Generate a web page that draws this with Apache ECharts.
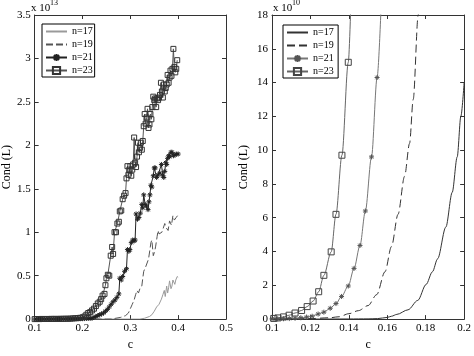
<!DOCTYPE html>
<html>
<head>
<meta charset="utf-8">
<script src="https://cdn.jsdelivr.net/npm/echarts@6/dist/echarts.min.js"></script>
<style>
html,body{margin:0;padding:0;background:#fff;}
#chart{width:474px;height:356px;}
</style>
</head>
<body>
<div id="chart"></div>
<script>
// ---------- Left panel data (Cond(L) in units of 1e13) ----------
var seriesNames = ['n=17', 'n=19', 'n=21', 'n=23'];
var leftXTicks = [0.1, 0.2, 0.3, 0.4, 0.5];
var leftYTicks = [0, 0.5, 1, 1.5, 2, 2.5, 3, 3.5];
var rightXTicks = [0.1, 0.12, 0.14, 0.16, 0.18, 0.2];
var rightYTicks = [0, 2, 4, 6, 8, 10, 12, 14, 16, 18];

var L17x = [0.100,0.120,0.140,0.160,0.180,0.200,0.220,0.240,0.260,0.280,0.300,0.320,0.330,0.340,0.345,0.350,0.355,0.360,0.365,0.368,0.371,0.373,0.376,0.378,0.380,0.382,0.385,0.387,0.389,0.391,0.393,0.395,0.398,0.400];
var L17y = [0,0,0,0,0,0,0,0,0,0,0,0,0.01,0.03,0.05,0.09,0.14,0.17,0.23,0.28,0.33,0.26,0.38,0.30,0.36,0.44,0.35,0.38,0.45,0.47,0.40,0.45,0.49,0.48];

var L19x = [0.100,0.110,0.120,0.130,0.140,0.150,0.160,0.170,0.180,0.190,0.200,0.210,0.220,0.230,0.240,0.250,0.260,0.270,0.280,0.290,0.296,0.300,0.304,0.308,0.311,0.314,0.317,0.320,0.324,0.326,0.328,0.332,0.335,0.338,0.341,0.343,0.345,0.348,0.351,0.353,0.356,0.358,0.360,0.362,0.366,0.369,0.372,0.375,0.379,0.382,0.386,0.389,0.392,0.396,0.400];
var L19y = [0,0,0,0,0,0,0,0,0,0,0,0,0,0,0,0,0,0.01,0.02,0.04,0.07,0.12,0.17,0.22,0.28,0.33,0.30,0.35,0.38,0.47,0.55,0.60,0.62,0.69,0.80,0.88,0.91,0.73,0.78,0.84,0.95,1.02,0.98,0.97,1.00,1.02,1.10,1.05,1.02,1.13,1.08,1.19,1.14,1.17,1.20];

var L21x = [0.100,0.104,0.108,0.112,0.116,0.120,0.124,0.128,0.132,0.136,0.140,0.144,0.148,0.152,0.156,0.160,0.164,0.168,0.172,0.176,0.180,0.184,0.188,0.192,0.196,0.200,0.204,0.208,0.212,0.216,0.220,
  0.224,0.228,0.232,0.236,0.240,0.244,0.248,0.252,0.256,0.260,0.264,0.268,0.272,0.276,
  0.278,0.281,0.284,0.288,0.292,0.294,0.297,0.299,0.302,0.305,0.308,0.310,0.312,0.315,0.318,0.321,0.324,0.326,0.328,0.331,0.334,0.337,0.339,0.341,0.343,0.345,0.348,0.350,0.352,0.355,0.358,0.362,0.365,0.368,0.370,0.372,0.374,0.376,0.378,0.380,0.382,0.385,0.387,0.390,0.393,0.396,0.400];
var L21y = [0.000,0.000,0.001,0.000,0.001,0.000,0.001,0.001,0.000,0.001,0.001,0.001,0.002,0.001,0.002,0.002,0.002,0.003,0.002,0.003,0.003,0.004,0.004,0.004,0.005,0.005,0.006,0.007,0.008,0.009,0.010,
  0.02,0.03,0.04,0.05,0.06,0.07,0.09,0.11,0.14,0.17,0.20,0.22,0.25,0.29,
  0.47,0.45,0.49,0.55,0.58,0.80,0.78,0.80,0.88,0.91,0.90,0.91,1.21,1.15,1.17,1.22,1.32,1.28,1.43,1.32,1.30,1.26,1.35,1.43,1.54,1.52,1.65,1.74,1.74,1.63,1.66,1.68,1.78,1.65,1.63,1.70,1.80,1.78,1.85,1.88,1.87,1.92,1.92,1.88,1.89,1.90,1.90];

var L23x = [0.100,0.105,0.110,0.115,0.120,0.125,0.130,0.135,0.140,0.145,0.150,0.155,0.160,0.165,0.170,0.175,0.180,0.185,0.190,0.195,0.200,
  0.204,0.208,0.212,0.216,0.220,0.224,0.228,0.232,0.236,
  0.239,0.242,0.246,0.248,0.250,0.253,0.256,0.259,0.262,0.264,0.267,0.270,0.273,0.276,0.278,0.281,0.284,0.287,0.290,
  0.292,0.294,0.296,0.298,0.300,0.302,0.304,0.306,0.308,0.310,0.312,0.314,0.316,0.318,0.320,0.322,0.324,0.326,0.328,0.330,0.332,0.334,0.336,0.338,0.340,0.342,0.344,0.346,0.348,0.350,0.352,0.354,0.356,0.358,0.360,0.362,0.364,0.366,0.368,0.370,0.372,0.374,0.376,0.378,0.380,0.382,0.384,0.386,0.388,0.390,0.392,0.394,0.396,0.398];
var L23y = [0.000,0.001,0.000,0.002,0.001,0.002,0.001,0.003,0.002,0.003,0.002,0.004,0.003,0.005,0.004,0.006,0.008,0.010,0.012,0.015,0.020,
  0.030,0.050,0.070,0.080,0.100,0.120,0.150,0.180,0.200,
  0.230,0.270,0.290,0.390,0.470,0.510,0.500,0.730,0.830,0.750,1.000,1.000,1.100,1.120,1.240,1.250,1.380,1.420,1.450,
  1.620,1.760,1.660,1.720,1.760,1.650,1.720,1.780,2.090,1.800,1.750,1.870,2.030,1.920,1.970,2.030,1.950,2.050,2.220,2.360,2.250,2.320,2.420,2.200,2.240,2.360,2.300,2.440,2.560,2.520,2.540,2.440,2.540,2.520,2.550,2.580,2.720,2.620,2.550,2.700,2.620,2.660,2.700,2.810,2.720,2.780,2.860,2.800,2.880,3.110,2.900,2.840,2.880,2.980];

// ---------- Right panel data (Cond(L) in units of 1e10) ----------
var R17x = [0.100,0.120,0.140,0.150,0.155,0.160,0.1622,0.165,0.1708,0.1759,0.1802,0.1835,0.1862,0.1905,0.1938,0.1964,0.1983,0.2000];
var R17y = [0.000,0.002,0.008,0.015,0.03,0.10,0.17,0.28,0.55,1.11,2.05,2.80,3.57,5.45,7.50,9.60,12.0,14.0];

var R19x = [0.100,0.110,0.120,0.130,0.135,0.140,0.145,0.150,0.1545,0.1588,0.1622,0.1656,0.1690,0.1716,0.1735,0.1761,0.1770];
var R19y = [0.005,0.01,0.03,0.08,0.14,0.32,0.50,0.80,1.45,2.80,4.30,6.20,8.45,10.4,13.0,18.0,20.0];

var R21x = [0.1000,0.1030,0.1060,0.1090,0.1120,0.1150,0.1180,0.1209,0.1240,0.1270,0.1303,0.1333,0.1362,0.1397,0.1427,0.1458,0.1486,0.1518,0.1547,0.1573];
var R21y = [0.01,0.015,0.02,0.03,0.05,0.08,0.12,0.17,0.30,0.41,0.64,0.92,1.34,1.96,3.00,4.36,6.40,9.60,14.3,20.0];

var R23x = [0.1009,0.1031,0.1060,0.1089,0.1120,0.1154,0.1183,0.1214,0.1243,0.1270,0.1308,0.1333,0.1364,0.1397,0.1414];
var R23y = [0.04,0.07,0.13,0.23,0.36,0.51,0.74,1.07,1.62,2.59,3.98,6.20,9.70,15.2,20.0];

function pairs(xs, ys) {
  var out = [];
  for (var i = 0; i < Math.min(xs.length, ys.length); i++) out.push([xs[i], ys[i]]);
  return out;
}

var SERIF = '"Liberation Serif", "DejaVu Serif", serif';
var STAR = 'path://M10,0L10,20M0,10L20,10M3,3L17,17M3,17L17,3';
var CLEAR = 'rgba(255,255,255,0)';

function xAx(gi, min, max, interval, pos) {
  var main = pos === 'bottom';
  return {
    type: 'value', gridIndex: gi, position: pos, min: min, max: max, interval: interval,
    name: main ? 'c' : '', nameLocation: 'middle', nameGap: 17,
    nameTextStyle: { fontFamily: SERIF, fontSize: 12, color: '#000' },
    axisLine: { show: true, onZero: false, lineStyle: { color: '#333', width: 1 } },
    axisTick: { show: true, inside: true, length: 4, lineStyle: { color: '#333' } },
    axisLabel: { show: main, fontFamily: SERIF, fontSize: 11, color: '#000', margin: 4 },
    splitLine: { show: false }
  };
}
function yAx(gi, min, max, interval, pos, gap) {
  var main = pos === 'left';
  return {
    type: 'value', gridIndex: gi, position: pos, min: min, max: max, interval: interval,
    name: main ? 'Cond (L)' : '', nameLocation: 'middle', nameGap: gap,
    nameTextStyle: { fontFamily: SERIF, fontSize: 12, color: '#000' },
    axisLine: { show: true, onZero: false, lineStyle: { color: '#333', width: 1 } },
    axisTick: { show: true, inside: true, length: 4, lineStyle: { color: '#333' } },
    axisLabel: { show: main, fontFamily: SERIF, fontSize: 11, color: '#000', margin: 4 },
    splitLine: { show: false }
  };
}

function legendCfg(left, top, names) {
  return {
    orient: 'vertical', left: left, top: top, data: names,
    backgroundColor: '#fff', borderColor: '#000', borderWidth: 1,
    padding: [2, 2, 1, 3], itemGap: 2, itemWidth: 21, itemHeight: 9,
    textStyle: { fontFamily: SERIF, fontSize: 10, color: '#000', lineHeight: 11 },
    selectedMode: false
  };
}

var leftNames = ['n=17', 'n=19', 'n=21', 'n=23'];
var rightNames = ['n=17 ', 'n=19 ', 'n=21 ', 'n=23 '];

var option = {
  animation: false,
  backgroundColor: '#fff',
  grid: [
    { left: 30, top: 15, width: 196, height: 318 },
    { left: 272, top: 15, width: 195, height: 318 }
  ],
  xAxis: [
    xAx(0, 0.1, 0.5, 0.1, 'bottom'),
    xAx(0, 0.1, 0.5, 0.1, 'top'),
    xAx(1, 0.1, 0.2, 0.02, 'bottom'),
    xAx(1, 0.1, 0.2, 0.02, 'top')
  ],
  yAxis: [
    yAx(0, 0, 3.5, 0.5, 'left', 21),
    yAx(0, 0, 3.5, 0.5, 'right', 0),
    yAx(1, 0, 18, 2, 'left', 22),
    yAx(1, 0, 18, 2, 'right', 0)
  ],
  legend: [
    legendCfg(42, 24, leftNames),
    legendCfg(283, 25, rightNames)
  ],
  graphic: [
    { type: 'text', left: 31, top: 3, style: { text: 'x 10', fontFamily: SERIF, fontSize: 11, fill: '#000' } },
    { type: 'text', left: 50, top: -1, style: { text: '13', fontFamily: SERIF, fontSize: 8, fill: '#000' } },
    { type: 'text', left: 273, top: 3, style: { text: 'x 10', fontFamily: SERIF, fontSize: 11, fill: '#000' } },
    { type: 'text', left: 292, top: -1, style: { text: '10', fontFamily: SERIF, fontSize: 8, fill: '#000' } }
  ],
  series: [
    { name: leftNames[0], type: 'line', xAxisIndex: 0, yAxisIndex: 0, data: pairs(L17x, L17y),
      symbol: 'circle', showSymbol: false, lineStyle: { color: '#9a9a9a', width: 1 }, itemStyle: { color: CLEAR, borderWidth: 0 } },
    { name: leftNames[1], type: 'line', xAxisIndex: 0, yAxisIndex: 0, data: pairs(L19x, L19y),
      symbol: 'circle', showSymbol: false, lineStyle: { color: '#555', width: 1, type: [7, 3] }, itemStyle: { color: CLEAR, borderWidth: 0 } },
    { name: leftNames[2], type: 'line', xAxisIndex: 0, yAxisIndex: 0, data: pairs(L21x, L21y),
      symbol: STAR, symbolSize: 5, showSymbol: true,
      lineStyle: { color: '#222', width: 1 }, itemStyle: { color: '#222', borderColor: '#222', borderWidth: 1 } },
    { name: leftNames[3], type: 'line', xAxisIndex: 0, yAxisIndex: 0, data: pairs(L23x, L23y),
      symbol: 'rect', symbolSize: 5, showSymbol: true,
      lineStyle: { color: '#555', width: 1 }, itemStyle: { color: CLEAR, borderColor: '#333', borderWidth: 1 } },

    { name: rightNames[0], type: 'line', xAxisIndex: 2, yAxisIndex: 2, data: pairs(R17x, R17y),
      symbol: 'circle', showSymbol: false, smooth: 0.3, smoothMonotone: 'x', lineStyle: { color: '#333', width: 1 }, itemStyle: { color: CLEAR, borderWidth: 0 } },
    { name: rightNames[1], type: 'line', xAxisIndex: 2, yAxisIndex: 2, data: pairs(R19x, R19y),
      symbol: 'circle', showSymbol: false, smooth: 0.3, smoothMonotone: 'x', lineStyle: { color: '#333', width: 1, type: [8, 4] }, itemStyle: { color: CLEAR, borderWidth: 0 } },
    { name: rightNames[2], type: 'line', xAxisIndex: 2, yAxisIndex: 2, data: pairs(R21x, R21y),
      symbol: STAR, symbolSize: 5, showSymbol: true, smooth: 0.3, smoothMonotone: 'x',
      lineStyle: { color: '#777', width: 1 }, itemStyle: { color: '#555', borderColor: '#555', borderWidth: 1 } },
    { name: rightNames[3], type: 'line', xAxisIndex: 2, yAxisIndex: 2, data: pairs(R23x, R23y),
      symbol: 'rect', symbolSize: 6, showSymbol: true, smooth: 0.3, smoothMonotone: 'x',
      lineStyle: { color: '#666', width: 1 }, itemStyle: { color: CLEAR, borderColor: '#444', borderWidth: 1 } }
  ]
};

var chart = echarts.init(document.getElementById('chart'), null, { renderer: 'canvas' });
chart.setOption(option);
</script>
</body>
</html>
